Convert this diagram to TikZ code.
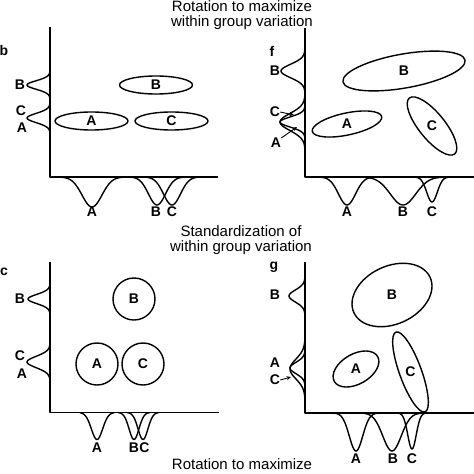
\documentclass[tikz,border=0pt]{standalone}
\usepackage{fontspec}
\setmainfont{Liberation Sans}
\usetikzlibrary{shapes.geometric,arrows.meta}
\begin{document}
\begin{tikzpicture}[x=1pt,y=-1pt,
  line join=round,
  lbl/.style={font=\fontsize{14}{16}\selectfont\bfseries, inner sep=0pt},
  ttl/.style={font=\fontsize{15}{17}\selectfont, inner sep=0pt, anchor=base},
  ell/.style={draw, shape=ellipse, inner sep=0pt, line width=1.4pt},
  circ/.style={draw, shape=circle, inner sep=0pt, minimum size=42pt, line width=1.4pt},
  axisline/.style={line width=1.7pt},
  curve/.style={line width=1.4pt},
  arr/.style={-{Stealth[length=4.5pt,width=4pt]}, line width=0.9pt},
  declare function={gs(\p,\m,\w)=exp(-((\p-\m)/\w)*((\p-\m)/\w));}
]
\useasboundingbox (0,0) rectangle (474,474);

% titles
\node[ttl] (t1) at (242,11.5) {Rotation to maximize};
\node[ttl] (t2) at (242,26) {within group variation};
\node[ttl] (t3) at (241,236) {Standardization of};
\node[ttl] (t4) at (241,251) {within group variation};
\node[ttl] (t5) at (242,469) {Rotation to maximize};

% ---------------- panel b ----------------
\coordinate (bT) at (50,27);
\coordinate (bO) at (50,177);
\coordinate (bR) at (218,177);
\draw[axisline] (bT) -- (bO) -- (bR);
\draw[curve] plot[domain=71:99,samples=40] ({50-23*gs(\x,85,6)},\x);
\draw[curve] plot[domain=103:133,samples=40] ({50-23*gs(\x,118,6.5)},\x);
\draw[curve] plot[domain=62:122,samples=50] (\x,{177+30*gs(\x,92,14)});
\draw[curve] plot[domain=130:184,samples=50] (\x,{177+28*gs(\x,157,12)});
\draw[curve] plot[domain=145:199,samples=50] (\x,{177+28*gs(\x,172,12)});
\node[ell, minimum width=73pt, minimum height=18pt] (bB) at (156,85) {};
\node[ell, minimum width=73pt, minimum height=18pt] (bA) at (91.5,121) {};
\node[ell, minimum width=73pt, minimum height=18pt] (bC) at (171.5,121) {};
\node[lbl] (bBt) at (bB) {B};
\node[lbl] (bAt) at (bA) {A};
\node[lbl] (bCt) at (bC) {C};
\node[lbl] (bl) at (4,50) {b};
\node[lbl] (bLB) at (20,85) {B};
\node[lbl] (bLC) at (21,111) {C};
\node[lbl] (bLA) at (22,128) {A};
\node[lbl] (bXA) at (92,212) {A};
\node[lbl] (bXB) at (156,212) {B};
\node[lbl] (bXC) at (172,212) {C};

% ---------------- panel f ----------------
\coordinate (fT) at (305,28);
\coordinate (fO) at (305,177);
\coordinate (fR) at (474,177);
\draw[axisline] (fT) -- (fO) -- (fR);
\draw[curve] plot[domain=49:93,samples=50] ({305-24*gs(\x,71,9.5)},\x);
\draw[curve] plot[domain=95:149,samples=50] ({305-25*gs(\x,122,12)},\x);
\draw[curve] plot[domain=106:138,samples=50] ({305-25*gs(\x,122,7)},\x);
\draw[curve] plot[domain=320:374,samples=50] (\x,{177+28*gs(\x,347,12)});
\draw[curve] plot[domain=363:443,samples=60] (\x,{177+28*gs(\x,403,18)});
\draw[curve] plot[domain=415:449,samples=50] (\x,{177+25*gs(\x,432,7.5)});
\node[ell, minimum width=124pt, minimum height=34pt, rotate=10] (fB) at (404,71) {};
\node[ell, minimum width=71pt, minimum height=22pt, rotate=12] (fA) at (347,124) {};
\node[ell, minimum width=72pt, minimum height=26pt, rotate=-51] (fC) at (432,126) {};
\node[lbl] (fBt) at (fB) {B};
\node[lbl] (fAt) at (fA) {A};
\node[lbl] (fCt) at (fC) {C};
\node[lbl] (fl) at (272,51) {f};
\node[lbl] (fLB) at (275,71) {B};
\node[lbl] (fLC) at (275,112) {C};
\node[lbl] (fLA) at (276,143) {A};
\coordinate (fCp) at (294,115);
\coordinate (fAp) at (297,127);
\draw[arr] (fLC.east) -- (fCp);
\draw[arr] (fLA.north east) -- (fAp);
\node[lbl] (fXA) at (347,212) {A};
\node[lbl] (fXB) at (403,212) {B};
\node[lbl] (fXC) at (432,212) {C};

% ---------------- panel c ----------------
\coordinate (cT) at (50,262);
\coordinate (cO) at (50,412.5);
\coordinate (cR) at (219,412.5);
\draw[axisline] (cT) -- (cO) -- (cR);
\draw[curve] plot[domain=284:314,samples=40] ({50-22*gs(\x,299,6.5)},\x);
\draw[curve] plot[domain=344:380,samples=40] ({50-23*gs(\x,362,8)},\x);
\draw[curve] plot[domain=80:114,samples=40] (\x,{412.5+27*gs(\x,97,8)});
\draw[curve] plot[domain=118:150,samples=40] (\x,{412.5+27*gs(\x,134,7)});
\draw[curve] plot[domain=127:159,samples=40] (\x,{412.5+27*gs(\x,143,7)});
\node[circ] (cB) at (134,299) {};
\node[circ] (cA) at (97,364) {};
\node[circ] (cC) at (143,364) {};
\node[lbl] (cBt) at (cB) {B};
\node[lbl] (cAt) at (cA) {A};
\node[lbl] (cCt) at (cC) {C};
\node[lbl] (cl) at (4,272) {c};
\node[lbl] (cLB) at (20,299) {B};
\node[lbl] (cLC) at (20,356) {C};
\node[lbl] (cLA) at (22,374) {A};
\node[lbl] (cXA) at (97,448) {A};
\node[lbl] (cXB) at (134,448) {B};
\node[lbl] (cXC) at (144.5,448) {C};

% ---------------- panel g ----------------
\coordinate (gT) at (305,262);
\coordinate (gO) at (305,413);
\coordinate (gR) at (474,413);
\draw[axisline] (gT) -- (gO) -- (gR);
\draw[curve] plot[domain=277:315,samples=40] ({305-16*gs(\x,296,8.5)},\x);
\draw[curve] plot[domain=338:400,samples=50] ({305-15*gs(\x,369,14)},\x);
\draw[curve] plot[domain=349:387,samples=50] ({305-15*gs(\x,368,8)},\x);
\draw[curve] plot[domain=334:378,samples=50] (\x,{413+38*gs(\x,356,9.5)});
\draw[curve] plot[domain=364:421,samples=50] (\x,{413+38*gs(\x,392,13)});
\draw[curve] plot[domain=398:426,samples=50] (\x,{413+36*gs(\x,412,6)});
\node[ell, minimum width=84pt, minimum height=58pt, rotate=25] (gB) at (392,295) {};
\node[ell, minimum width=50pt, minimum height=30pt, rotate=30] (gA) at (356,369) {};
\node[ell, minimum width=85pt, minimum height=22pt, rotate=-70] (gC) at (410.5,372) {};
\node[lbl] (gBt) at (gB) {B};
\node[lbl] (gAt) at (gA) {A};
\node[lbl] (gCt) at (gC) {C};
\node[lbl] (gl) at (274,267) {g};
\node[lbl] (gLB) at (275,295) {B};
\node[lbl] (gLA) at (275,363) {A};
\node[lbl] (gLC) at (275,380) {C};
\coordinate (gCp) at (291,377);
\draw[arr] (gLC.east) -- (gCp);
\node[lbl] (gXA) at (356,459) {A};
\node[lbl] (gXB) at (393,459) {B};
\node[lbl] (gXC) at (412,459) {C};
\end{tikzpicture}
\end{document}
